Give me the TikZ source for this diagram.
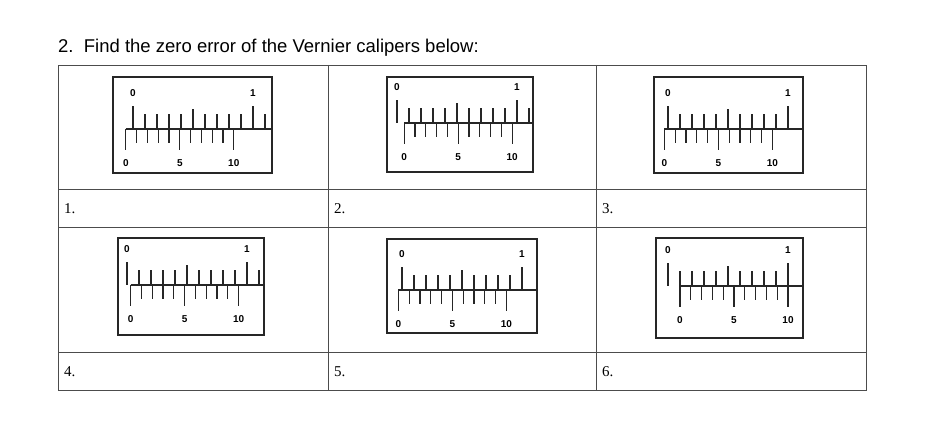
\documentclass[tikz,border=0pt]{standalone}
\usepackage{fontspec}
\setmainfont{Liberation Serif}
\newfontfamily\arialf{Liberation Sans}
\tikzset{
  grid line/.style={draw=black!70, line width=0.9pt},
  frame/.style={draw=black!85, line width=1.2pt},
  tick/.style={draw=black!85, line width=1.3pt},
  lab/.style={font=\arialf\bfseries\fontsize{10}{10}\selectfont, inner sep=0pt},
  rowlab/.style={font=\fontsize{15}{15}\selectfont, anchor=west, inner sep=0pt}
}
\newcommand\vcal[7]{%
  \draw[frame] (#1,#2) rectangle (#3,#4);
  \pgfmathsetmacro\vz{#5+12*#7}
  \draw[tick] (\vz,#6) -- (#3,#6);
  \foreach \k in {0,...,13}{
    \pgfmathsetmacro\xx{#5+12*\k}
    \pgfmathparse{\xx<#3-3?1:0}
    \ifnum\pgfmathresult=1
      \pgfmathsetmacro\hh{(\k==0||\k==10)?23:((\k==5)?20:15)}
      \draw[tick] (\xx,#6) -- ++(0,-\hh);
    \fi
  }
  \foreach \k in {0,...,10}{
    \pgfmathsetmacro\xx{\vz+10.8*\k}
    \pgfmathsetmacro\hh{(\k==0||\k==5||\k==10)?21:14}
    \draw[tick] (\xx,#6) -- ++(0,\hh);
  }
  \node[lab] at (#5,#6-36) {0};
  \node[lab] at (#5+120,#6-36) {1};
  \node[lab] at (\vz,#6+34) {0};
  \node[lab] at (\vz+54,#6+34) {5};
  \node[lab] at (\vz+108,#6+34) {10};
}
\begin{document}
\begin{tikzpicture}[x=1pt,y=-1pt]
\useasboundingbox (0,0) rectangle (925,443);
\node[anchor=base west, inner sep=0pt, font=\arialf\fontsize{18.5}{18.5}\selectfont] (title) at (58,53) {2.\ \ Find the zero error of the Vernier calipers below:};
\draw[grid line] (58,65) rectangle (866,390);
\draw[grid line] (58,189) -- (866,189);
\draw[grid line] (58,227) -- (866,227);
\draw[grid line] (58,352) -- (866,352);
\draw[grid line] (328,65) -- (328,390);
\draw[grid line] (596,65) -- (596,390);
\node[rowlab] (r1) at (64,209) {1.};
\node[rowlab] (r2) at (334,209) {2.};
\node[rowlab] (r3) at (602,209) {3.};
\node[rowlab] (r4) at (64,372) {4.};
\node[rowlab] (r5) at (334,372) {5.};
\node[rowlab] (r6) at (602,372) {6.};
\vcal{113}{77}{272}{173}{133}{129}{-0.6}
\vcal{387}{77}{533}{172}{397}{123}{0.6}
\vcal{654}{77}{803}{173}{668}{129}{-0.3}
\vcal{118}{238}{264}{335}{127}{285}{0.3}
\vcal{387}{239}{537}{333}{402}{290}{-0.3}
\vcal{656}{238}{803}{338}{668}{286}{1.0}
\end{tikzpicture}
\end{document}
